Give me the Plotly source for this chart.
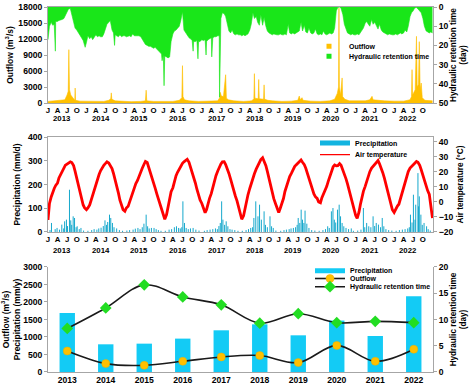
import pandas as pd
import plotly.graph_objects as go

# ---------------- Panel 1: outflow (m3/s) and hydraulic retention time (day) ----------------
outflow_dates = [
    "2013-01-01", "2013-03-01", "2013-05-01", "2013-06-10", "2013-07-01", "2013-07-12", "2013-07-18",
    "2013-07-24", "2013-08-05", "2013-08-25", "2013-09-12", "2013-09-16", "2013-09-20", "2013-11-01",
    "2014-01-01", "2014-04-01", "2014-06-15", "2014-08-01", "2014-08-20", "2014-08-25", "2014-08-30",
    "2014-10-01", "2014-12-01",
    "2015-03-01", "2015-06-01", "2015-07-15", "2015-07-22", "2015-07-28", "2015-10-01",
    "2016-01-01", "2016-04-01", "2016-06-01", "2016-06-25", "2016-07-01", "2016-07-06", "2016-07-20",
    "2016-09-01", "2016-12-01",
    "2017-03-01", "2017-06-01", "2017-06-20", "2017-06-25", "2017-07-05", "2017-07-25", "2017-08-15",
    "2017-08-22", "2017-09-10", "2017-11-01",
    "2018-02-01", "2018-04-20", "2018-05-10", "2018-05-15", "2018-05-20", "2018-06-20", "2018-06-25",
    "2018-06-30", "2018-08-10", "2018-08-15", "2018-08-20", "2018-09-20", "2018-11-01",
    "2019-02-01", "2019-05-01", "2019-07-01", "2019-07-15", "2019-07-25", "2019-08-10", "2019-08-20",
    "2019-11-01",
    "2020-02-01", "2020-05-01", "2020-06-15", "2020-07-10", "2020-07-22", "2020-07-26", "2020-07-30",
    "2020-08-10", "2020-08-25", "2020-08-30", "2020-09-20", "2020-11-01",
    "2021-02-01", "2021-04-01", "2021-05-15", "2021-05-25", "2021-06-05", "2021-06-15", "2021-08-01",
    "2021-10-01",
    "2022-01-01", "2022-04-01", "2022-06-01", "2022-06-15", "2022-06-20", "2022-06-25", "2022-07-20",
    "2022-08-01", "2022-08-08", "2022-08-20", "2022-08-28", "2022-09-05", "2022-09-15", "2022-09-25",
    "2022-10-20", "2022-12-31",
]
outflow_values = [
    300, 400, 450, 600, 1500, 2200, 10000, 2500, 1500, 900, 500, 2800, 500, 350,
    300, 250, 300, 500, 800, 1900, 700, 400, 300,
    250, 300, 400, 2400, 400, 300,
    250, 300, 500, 1000, 7000, 1200, 600, 400, 300,
    300, 400, 1000, 2000, 1300, 1200, 5300, 900, 600, 400,
    300, 400, 800, 5500, 900, 800, 4400, 800, 700, 3400, 700, 500, 400,
    300, 350, 500, 1300, 600, 1000, 500, 350,
    300, 400, 700, 1800, 3000, 17800, 3000, 1500, 4700, 1200, 700, 400,
    350, 400, 600, 1000, 1250, 600, 500, 400,
    350, 350, 600, 1200, 6250, 1500, 2500, 12500, 3000, 3500, 11500, 2500, 3750, 1000, 500, 400,
]

# HRT read on the 1st and 15th of every month, 2013-2022
hrt_2013 = [17, 10, 8, 9.5, 9, 7.5, 7.5, 7, 6.8, 6.5, 6, 4.5, 2.5, 1, 0.8, 4.5, 9, 11, 12, 13.5, 14.5, 16, 17.5, 19.5]
hrt_2014 = [18.5, 15, 16.5, 15.5, 17, 16, 14.5, 15.5, 15, 15.5, 15.5, 14, 11, 9, 8, 7, 12, 13.5, 14.5, 15, 15.5, 14.5, 15.5, 15]
hrt_2015 = [15, 15.5, 15, 15, 15.5, 14, 15, 15, 15.3, 15, 15.5, 17, 18.5, 19.5, 20, 20.5, 20.5, 21, 21.5, 21, 22, 23, 24, 24.5]
hrt_2016 = [25, 25.5, 26, 26.5, 26, 18, 14, 12.5, 12, 11, 10, 7, 2.5, 12, 13.5, 14.5, 16, 16.5, 17.5, 18, 18, 17.5, 18, 18]
hrt_2017 = [17, 17.5, 17, 18, 17, 16.5, 16, 16, 15.5, 15.5, 15, 15, 6, 3, 3.5, 5, 9, 12.5, 13.5, 12, 14, 14.5, 14, 14.5]
hrt_2018 = [14.5, 15, 14.5, 15, 14.5, 14, 12, 9, 3, 6, 5, 8, 9.5, 4, 9.5, 5.5, 10, 12.5, 13.5, 14, 14.5, 14, 14.5, 14.5]
hrt_2019 = [14.5, 14, 14.5, 14.5, 14, 14.5, 9, 13.5, 14, 13.5, 14, 13.5, 13, 12.5, 8, 12.5, 9.5, 13, 13.5, 11, 13.5, 14, 13.5, 11.5]
hrt_2020 = [14, 14.5, 14, 14.5, 12.5, 14, 14.5, 14, 13.5, 14, 13.5, 11, 2, 0.3, 0, 0.8, 4, 9, 11.5, 13.5, 14, 14.5, 14, 14.5]
hrt_2021 = [14.5, 14, 14.5, 13.5, 12.5, 11, 8.5, 7.5, 9, 10, 6.5, 9, 8, 10, 11.5, 9, 12, 13, 13.5, 14, 14.5, 14, 14.5, 14.5]
hrt_2022 = [14.5, 14, 14.5, 14, 13.5, 14, 13.5, 12, 13, 10, 5, 3, 2, 0.5, 0.3, 1, 2, 3, 6, 10, 12.5, 13, 13.5, 13]
hrt_end_date = "2022-12-31"
hrt_end_value = 13.5
# short-lived HRT peaks
hrt_peak_dates = ["2013-03-12", "2013-12-20", "2014-09-25", "2015-12-20", "2016-01-08", "2016-10-10",
                  "2016-11-25", "2017-02-10", "2017-04-05", "2017-06-18"]
hrt_peak_values = [23, 21, 20, 28, 41, 23, 27, 25, 26, 47]

# ---------------- Panel 2: precipitation (mm/d) and air temperature (degC) ----------------
temp_2013 = [-12, -1, 3.5, 6.7, 9, 11, 12.5, 16, 18.5, 20.8, 23, 24.5, 25.3, 26, 26.8, 26.3, 24.3, 20.6, 16, 11.8, 6.2, 2.1, -2, -4]
temp_2014 = [-5.1, -4, -2, 1.3, 4.5, 8.5, 12, 15.2, 18.3, 20.8, 23, 24.5, 25.7, 26.8, 26, 24, 22.2, 19, 15, 11.3, 5.9, 1.2, -3.2, -5.2]
temp_2015 = [-6.2, -4, -2.9, 0.2, 3.4, 6.6, 9.8, 12.2, 14.3, 17.2, 19.7, 22.5, 25, 27, 26.3, 23.3, 20.2, 17, 13.8, 9.4, 5.3, 2, -2.4, -5.7]
temp_2016 = [-9.8, -11.5, -8.4, -3, 3.5, 6.9, 9.5, 13.5, 17.5, 19.8, 22, 24.2, 25.8, 26.8, 27.6, 28.5, 26.5, 23.5, 20.5, 17, 12.5, 8.5, 4.2, 1.4]
temp_2017 = [-1, -4.3, -7.2, -5, -0.7, 2.4, 5.7, 9.8, 14, 17.5, 20.7, 23.2, 25.3, 26.7, 26.8, 25, 22.2, 19, 15.2, 11.4, 7.6, 4, 0.8, -3.7]
temp_2018 = [-8, -11.5, -9.2, -3.6, 0.5, 4.8, 9, 12.4, 15.5, 18.8, 21.9, 24.3, 26.3, 28.3, 29.5, 27.2, 24.2, 20.4, 15.5, 10.5, 5.6, 2.2, -1, -4.4]
temp_2019 = [-7, -4.3, -0.9, 2.3, 7, 10.4, 13.8, 16.9, 19, 21.3, 23.6, 24.7, 25.7, 27, 28, 26.5, 24.8, 22.5, 18.8, 15, 11.3, 8, 5.3, 3.5]
temp_2020 = [2.4, 0, -0.5, 2.9, 5, 7.2, 10.4, 13.7, 17, 20.2, 23.5, 24.7, 24.1, 24.2, 25.6, 24.5, 21.5, 18.5, 15.4, 12, 7.4, 3, -0.8, -5.5]
temp_2021 = [-9, -11, -6.8, -1.5, 3.2, 7.1, 10.4, 13.8, 17, 20.2, 22.6, 23.7, 24.7, 26.3, 27.6, 25.5, 22.7, 19.5, 15.7, 11.8, 7.4, 2.5, -1.5, -5.2]
temp_2022 = [-7, -4.6, -2.7, -1.5, 2, 6.5, 10.4, 13.8, 17, 20.3, 22.6, 23.7, 24.8, 26.2, 27, 26.5, 24.4, 21.5, 17.5, 13.7, 9.5, 7.6, 5, -1]
temp_end_date = "2022-12-31"
temp_end_value = -10.7

precip_dates = [
    "2013-01-20", "2013-02-03", "2013-03-10", "2013-03-28", "2013-04-20", "2013-05-12", "2013-05-30", "2013-06-08",
    "2013-06-25", "2013-07-05", "2013-07-24", "2013-08-05", "2013-08-14", "2013-08-28", "2013-09-10", "2013-09-25",
    "2013-10-05", "2013-10-25", "2013-11-10", "2013-12-05",
    "2014-01-15", "2014-02-20", "2014-03-15", "2014-04-10", "2014-04-28", "2014-05-20", "2014-06-10", "2014-06-26",
    "2014-07-10", "2014-07-22", "2014-08-08", "2014-08-20", "2014-09-05", "2014-09-20", "2014-10-15", "2014-11-10",
    "2014-12-10",
    "2015-01-20", "2015-02-15", "2015-03-20", "2015-04-10", "2015-05-05", "2015-05-25", "2015-06-15", "2015-07-01",
    "2015-07-22", "2015-08-05", "2015-08-20", "2015-09-10", "2015-10-05", "2015-10-25", "2015-11-15", "2015-12-10",
    "2016-01-20", "2016-02-25", "2016-03-20", "2016-04-15", "2016-05-05", "2016-05-25", "2016-06-10", "2016-06-25",
    "2016-07-05", "2016-07-20", "2016-08-05", "2016-08-25", "2016-09-15", "2016-10-10", "2016-11-05", "2016-12-05",
    "2017-01-25", "2017-02-20", "2017-03-20", "2017-04-15", "2017-05-10", "2017-05-28", "2017-06-12", "2017-06-25",
    "2017-07-08", "2017-07-20", "2017-08-05", "2017-08-20", "2017-09-05", "2017-09-25", "2017-10-15", "2017-11-10",
    "2017-12-10",
    "2018-01-20", "2018-02-25", "2018-03-20", "2018-04-10", "2018-04-28", "2018-05-10", "2018-05-28", "2018-06-18",
    "2018-07-03", "2018-07-20", "2018-08-15", "2018-08-28", "2018-09-15", "2018-10-10", "2018-10-25", "2018-11-10",
    "2018-12-05",
    "2019-01-20", "2019-02-20", "2019-03-15", "2019-04-10", "2019-04-28", "2019-05-20", "2019-06-10", "2019-06-25",
    "2019-07-05", "2019-07-20", "2019-08-02", "2019-08-15", "2019-08-28", "2019-09-08", "2019-09-25", "2019-10-15",
    "2019-11-10", "2019-12-10",
    "2020-01-20", "2020-02-25", "2020-03-20", "2020-04-10", "2020-04-25", "2020-05-15", "2020-05-30", "2020-06-12",
    "2020-06-25", "2020-07-12", "2020-07-28", "2020-08-10", "2020-08-25", "2020-09-10", "2020-10-01", "2020-10-25",
    "2020-11-20", "2020-12-10",
    "2021-01-20", "2021-02-20", "2021-03-15", "2021-03-28", "2021-04-15", "2021-05-05", "2021-05-25", "2021-06-15",
    "2021-06-30", "2021-07-15", "2021-08-05", "2021-08-25", "2021-09-10", "2021-09-25", "2021-10-15", "2021-11-10",
    "2021-12-10",
    "2022-01-20", "2022-02-20", "2022-03-20", "2022-04-15", "2022-05-10", "2022-05-25", "2022-06-05", "2022-06-20",
    "2022-07-03", "2022-07-18", "2022-07-25", "2022-08-15", "2022-08-20", "2022-08-28", "2022-09-12", "2022-09-25",
    "2022-10-12", "2022-11-05", "2022-11-20", "2022-12-10",
]
precip_values = [
    8, 38, 12, 17, 10, 31, 15, 45, 52, 25, 178, 49, 30, 66, 59, 20, 24, 12, 17, 6,
    5, 8, 12, 10, 15, 18, 25, 49, 30, 42, 73, 59, 38, 20, 15, 8, 5,
    6, 8, 10, 14, 17, 12, 20, 35, 73, 24, 15, 17, 17, 12, 8, 5,
    5, 10, 12, 20, 24, 17, 15, 20, 129, 38, 17, 12, 15, 17, 10, 6,
    5, 8, 10, 12, 15, 12, 25, 38, 129, 52, 30, 45, 24, 12, 10, 8, 5,
    5, 8, 12, 17, 20, 59, 129, 66, 115, 52, 87, 30, 20, 66, 24, 17, 6,
    5, 8, 10, 12, 15, 17, 20, 30, 59, 38, 94, 52, 38, 90, 35, 17, 8, 6,
    5, 8, 12, 24, 17, 87, 101, 52, 40, 94, 115, 66, 38, 24, 17, 12, 15, 5,
    6, 10, 101, 20, 38, 24, 20, 66, 25, 38, 31, 20, 59, 24, 12, 8, 6,
    5, 8, 10, 12, 15, 20, 73, 40, 157, 52, 115, 248, 108, 150, 73, 30, 38, 24, 12, 6,
]

# ---------------- Panel 3: annual values ----------------
years = ["2013", "2014", "2015", "2016", "2017", "2018", "2019", "2020", "2021", "2022"]
annual_precip = [1686, 791, 810, 954, 1191, 1362, 1048, 1470, 1029, 2163]
annual_outflow = [600, 240, 190, 305, 430, 470, 268, 760, 305, 650]
annual_hrt = [8.3, 12.2, 16.6, 14.3, 12.8, 9.3, 11.1, 9.4, 9.65, 9.4]

# axis tick labels
month_ticktext = ["J", "A", "J", "O"]
year_labels = [str(y) for y in range(2013, 2023)]
outflow_ticks = [0, 3000, 6000, 9000, 12000, 15000, 18000]

# ---------------- assemble series ----------------
semi_dates = pd.date_range("2013-01-01", periods=240, freq="SMS")
hrt_all = (hrt_2013 + hrt_2014 + hrt_2015 + hrt_2016 + hrt_2017 + hrt_2018 + hrt_2019 + hrt_2020
           + hrt_2021 + hrt_2022)
hrt_df = pd.concat([
    pd.DataFrame({"d": semi_dates, "v": hrt_all}),
    pd.DataFrame({"d": pd.to_datetime(hrt_peak_dates), "v": hrt_peak_values}),
    pd.DataFrame({"d": pd.to_datetime([hrt_end_date]), "v": [hrt_end_value]}),
]).sort_values("d")

temp_all = (temp_2013 + temp_2014 + temp_2015 + temp_2016 + temp_2017 + temp_2018 + temp_2019 + temp_2020
            + temp_2021 + temp_2022)
temp_x = list(semi_dates) + [pd.Timestamp(temp_end_date)]
temp_y = temp_all + [temp_end_value]

px_, py_ = [], []
for d, v in zip(precip_dates, precip_values):
    px_ += [d, d, None]
    py_ += [0, v, None]

FONT = "Liberation Sans"
GREEN = "#19E619"
ORANGE = "#FFC000"
PCOL = "#16A8CC"
BARCOL = "#13CBF5"
AX = "#A6A6A6"
XR = ["2013-01-01", "2023-01-05"]

fig = go.Figure()

# panel 1
fig.add_trace(go.Scatter(x=pd.to_datetime(outflow_dates), y=outflow_values, mode="lines", fill="tozeroy",
                         line=dict(color=ORANGE, width=0.6), fillcolor=ORANGE, showlegend=False,
                         xaxis="x", yaxis="y"))
fig.add_trace(go.Scatter(x=hrt_df["d"], y=hrt_df["v"], mode="lines", fill="tozeroy",
                         line=dict(color=GREEN, width=0.6), fillcolor=GREEN, showlegend=False,
                         xaxis="x", yaxis="y2"))
fig.add_trace(go.Scatter(x=[None], y=[None], mode="markers", name="Outflow",
                         marker=dict(symbol="square", size=5, color=ORANGE), legend="legend",
                         xaxis="x", yaxis="y"))
fig.add_trace(go.Scatter(x=[None], y=[None], mode="markers", name="Hydraulic retention time",
                         marker=dict(symbol="square", size=5, color=GREEN), legend="legend2",
                         xaxis="x", yaxis="y"))

# panel 2
fig.add_trace(go.Scatter(x=px_, y=py_, mode="lines", line=dict(color=PCOL, width=1), showlegend=False,
                         xaxis="x2", yaxis="y3"))
fig.add_trace(go.Scatter(x=temp_x, y=temp_y, mode="lines", line=dict(color="#FF0000", width=2.8),
                         showlegend=False, xaxis="x2", yaxis="y4"))
fig.add_trace(go.Scatter(x=[None], y=[None], mode="lines", name="Precipitation",
                         line=dict(color="#12B4E0", width=5), legend="legend3", xaxis="x2", yaxis="y3"))
fig.add_trace(go.Scatter(x=[None], y=[None], mode="lines", name="Air temperature",
                         line=dict(color="#FF0000", width=1.2), legend="legend4", xaxis="x2", yaxis="y3"))

# panel 3
fig.add_trace(go.Bar(x=years, y=annual_precip, width=0.4, marker=dict(color=BARCOL, line=dict(width=0)),
                     showlegend=False, xaxis="x3", yaxis="y5"))
fig.add_trace(go.Scatter(x=years, y=annual_outflow, mode="lines+markers", name="Outflow",
                         line=dict(color="#1a1a1a", width=1.6, shape="spline", smoothing=1),
                         marker=dict(symbol="circle", size=8, color=ORANGE, line=dict(color="#E8B000", width=0.5)),
                         legend="legend6", xaxis="x3", yaxis="y5"))
fig.add_trace(go.Scatter(x=years, y=annual_hrt, mode="lines+markers", name="Hydraulic retention time",
                         line=dict(color="#1a1a1a", width=1.6, shape="spline", smoothing=1),
                         marker=dict(symbol="diamond", size=9, color="#22DD22"),
                         legend="legend7", xaxis="x3", yaxis="y6"))
fig.add_trace(go.Scatter(x=[None], y=[None], mode="lines", name="Precipitation",
                         line=dict(color=BARCOL, width=5), legend="legend5", xaxis="x3", yaxis="y5"))

TF = dict(family=FONT, size=8.6, color="#000000", weight="bold")
TITLEF = dict(family=FONT, size=8.5, color="#000000", weight="bold")


def yax(**kw):
    d = dict(showgrid=False, zeroline=False, showline=True, linecolor=AX, linewidth=1, automargin=False,
             ticks="outside", ticklen=3, tickcolor=AX, tickfont=TF, fixedrange=True)
    d.update(kw)
    return d


tickvals = []
ticktext = []
for y in range(2013, 2023):
    for m, t in zip([1, 4, 7, 10], month_ticktext):
        tickvals.append(f"{y}-{m:02d}-01")
        ticktext.append(t)

xdate = dict(type="date", range=XR, showgrid=False, zeroline=False, showline=True, linecolor=AX,
             linewidth=1, mirror=True, ticks="", tickvals=tickvals, ticktext=ticktext, automargin=False,
             tickfont=dict(family=FONT, size=7.8, color="#000000", weight="bold"), tickangle=0,
             fixedrange=True)

D1 = [0.737, 1.0]
D2 = [0.3836, 0.6438]
D3 = [0.0, 0.2877]
RTF = dict(family=FONT, size=8.2, color="#000000", weight="bold")

fig.update_layout(
    width=474, height=389, margin=dict(l=48, r=41, t=7, b=17, autoexpand=False),
    paper_bgcolor="white", plot_bgcolor="white",
    font=dict(family=FONT, color="#000000"),
    hovermode=False, dragmode=False,
    xaxis=dict(xdate, domain=[0, 1], anchor="y"),
    yaxis=yax(domain=D1, anchor="x", range=[0, 18000], tickvals=outflow_ticks,
              ticktext=[str(v) for v in outflow_ticks],
              mirror=True, title=dict(text="Outflow (m<sup>3</sup>/s)", font=TITLEF, standoff=3)),
    yaxis2=yax(overlaying="y", side="right", anchor="x", range=[50, 0], tickvals=[0, 10, 20, 30, 40, 50],
               title=dict(text="Hydraulic retention time<br>(day)", font=RTF, standoff=2)),
    xaxis2=dict(xdate, domain=[0, 1], anchor="y3"),
    yaxis3=yax(domain=D2, anchor="x2", range=[0, 400], tickvals=[0, 100, 200, 300, 400], mirror=True,
               title=dict(text="Precipitation (mm/d)", font=TITLEF, standoff=5)),
    yaxis4=yax(overlaying="y3", side="right", anchor="x2", range=[-20, 43.3],
               tickvals=[-20, -10, 0, 10, 20, 30, 40],
               title=dict(text="Air temperature (\u00b0C)", font=RTF, standoff=4)),
    xaxis3=dict(domain=[0, 1], anchor="y5", type="category", range=[-0.5, 9.5], showgrid=False,
                showline=True, linecolor=AX, linewidth=1, ticks="", tickfont=TF, fixedrange=True,
                automargin=False),
    yaxis5=yax(domain=D3, anchor="x3", range=[0, 3000], tickvals=[0, 500, 1000, 1500, 2000, 2500, 3000],
               title=dict(text="Outflow (m<sup>3</sup>/s)<br>Precipitation (mm/y)", font=TITLEF, standoff=2)),
    yaxis6=yax(overlaying="y5", side="right", anchor="x3", range=[0, 20], tickvals=[0, 5, 10, 15, 20],
               title=dict(text="Hydraulic retention time<br>(day)", font=RTF, standoff=2)),
    bargap=0.6,
)

LF = dict(family=FONT, size=7, color="#000000", weight="bold")


def leg(xp, yp):
    return dict(x=(xp - 40 - 48) / 385, y=(372 - yp) / 365, xanchor="left", yanchor="middle",
                bgcolor="rgba(0,0,0,0)", borderwidth=0, font=LF, itemwidth=30)


fig.update_layout(
    legend=leg(349, 46.3), legend2=leg(349, 56.3),
    legend3=leg(355, 143), legend4=leg(355, 154.7),
    legend5=leg(350, 270.7), legend6=leg(350, 278.5), legend7=leg(350, 286.7),
)

# year labels under month letters
for i, y in enumerate(year_labels):
    for yp in [(372 - 119) / 365, (372 - 251) / 365]:
        fig.add_annotation(x=f"{y}-05-16", y=yp, xref="x", yref="paper", text=y, showarrow=False,
                           font=dict(family=FONT, size=7.8, color="#000000", weight="bold"),
                           xanchor="center", yanchor="middle")

fig.write_html("out.html", config={"displayModeBar": False, "staticPlot": True},
               post_script="document.body.style.margin='0px';")
